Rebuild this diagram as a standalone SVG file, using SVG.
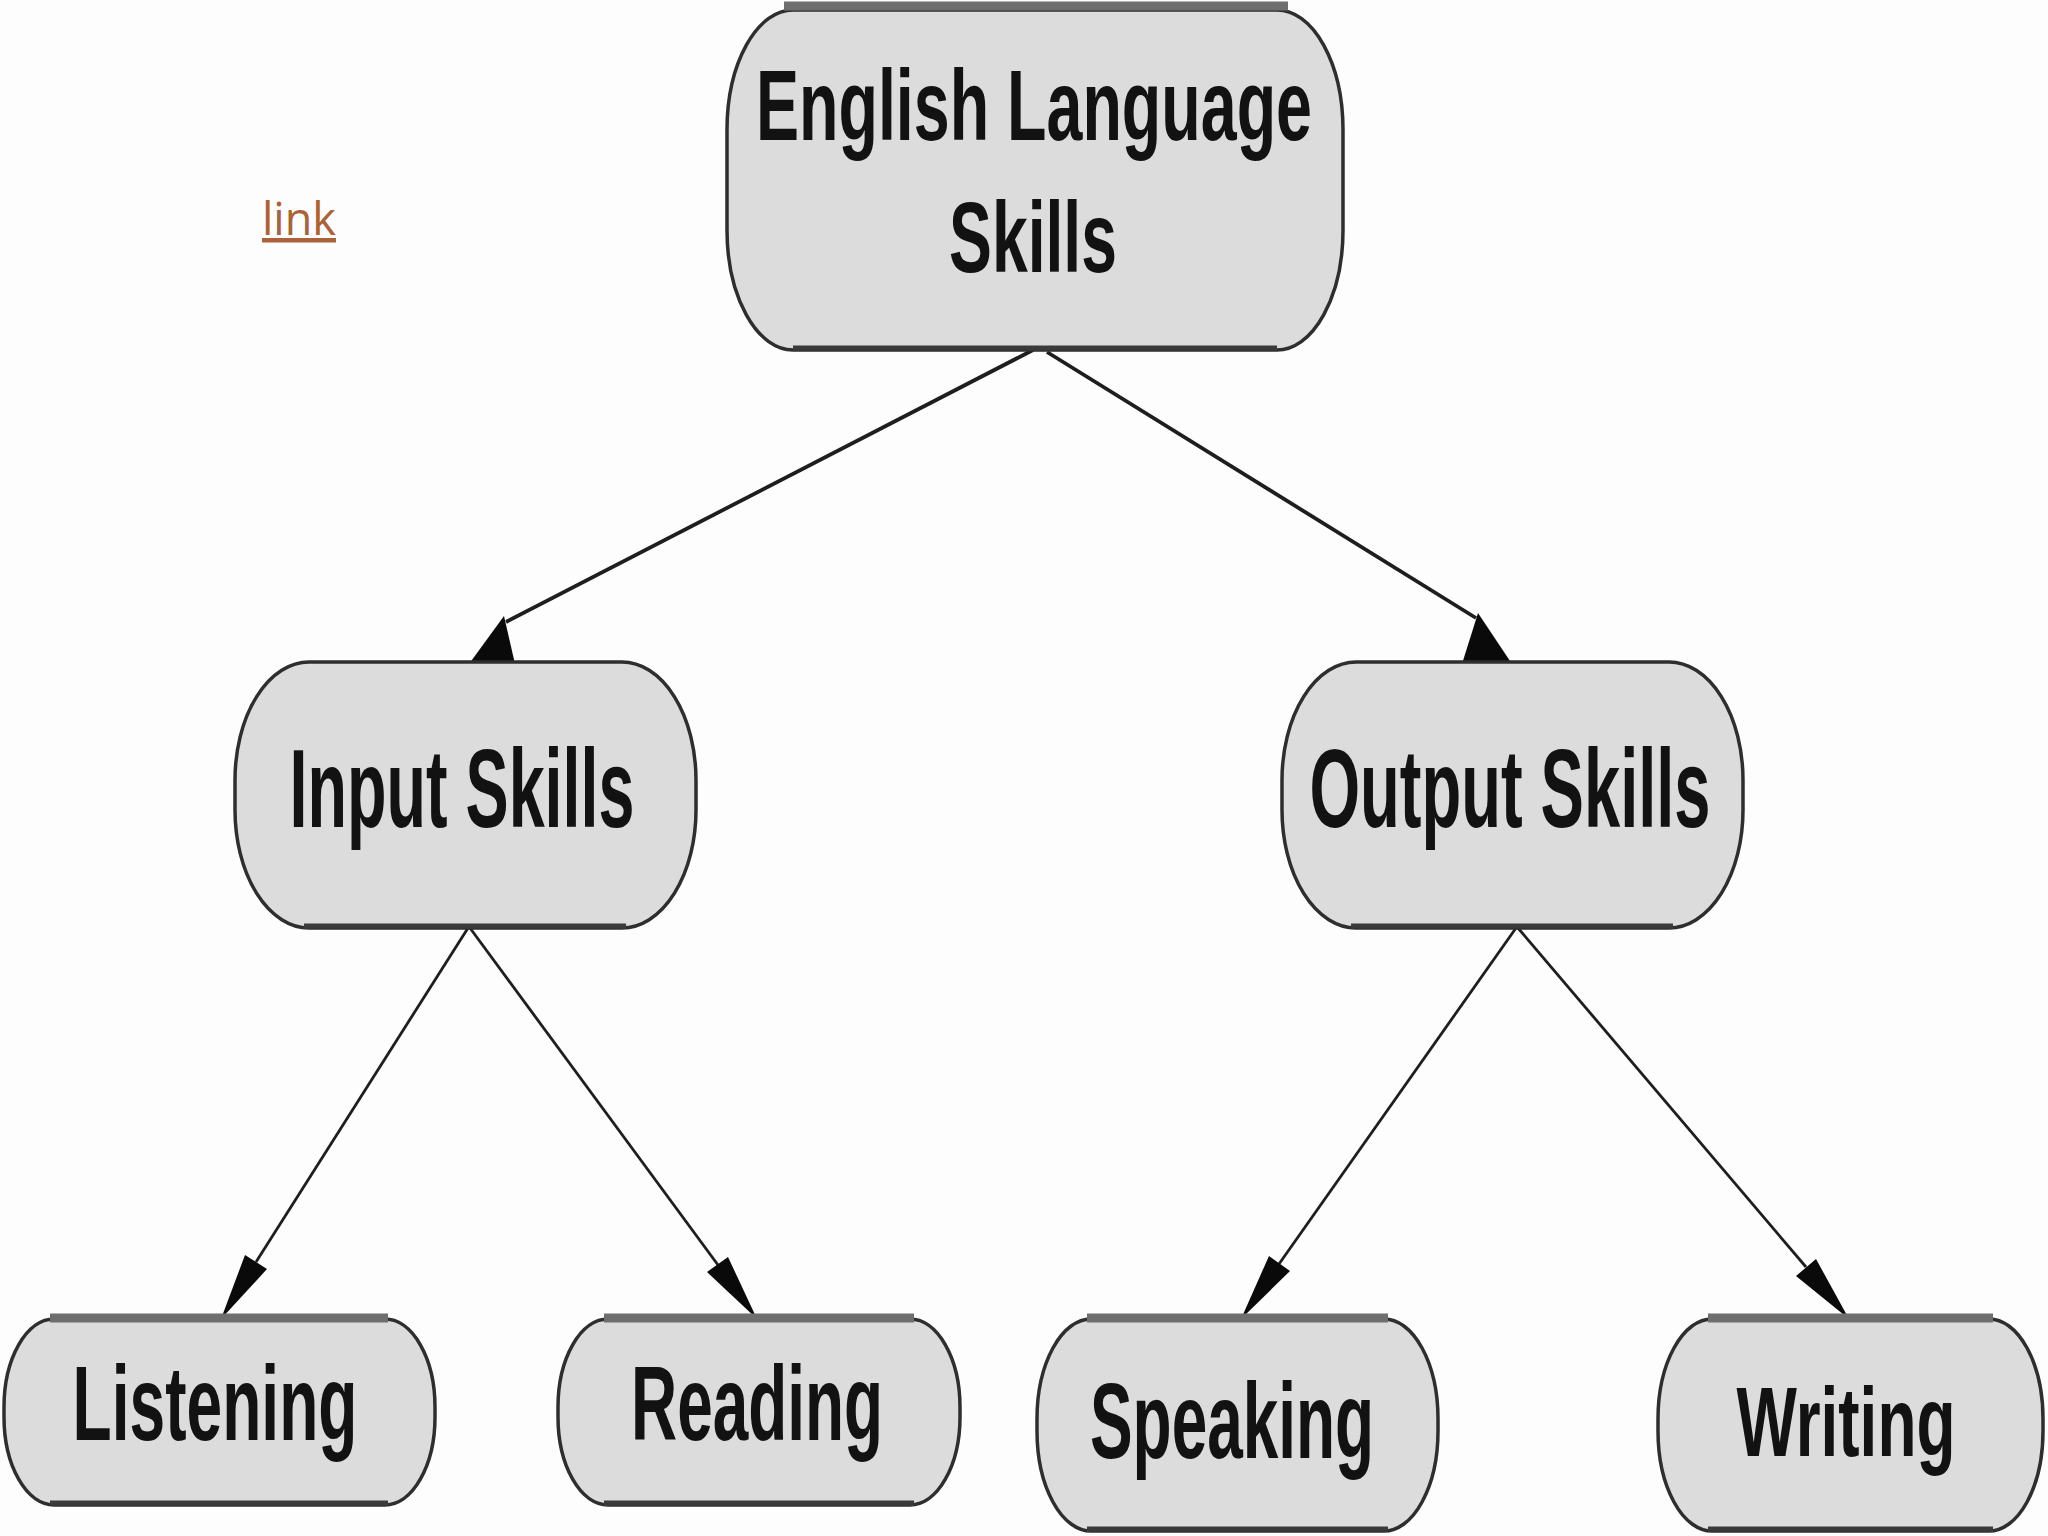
<svg xmlns="http://www.w3.org/2000/svg" width="2048" height="1536" viewBox="0 0 2048 1536">
<style>
.box{fill:#dcdcdc;stroke:#2e2e2e;stroke-width:3.5}
.band{stroke:#6e6e6e;stroke-width:9;fill:none}
.bshade{stroke:#3a3a3a;stroke-width:5;fill:none}
.lbl{font-family:"Liberation Sans",Arial,sans-serif;font-weight:bold;fill:#121212;text-anchor:middle}
.edge{stroke:#1e1e1e;fill:none}
.thick{stroke-width:3.8}
.thin{stroke-width:2.8}
.arrowhead{fill:#0a0a0a;stroke:none}
.link{font-family:"Open Sans","Noto Sans",sans-serif;font-size:45px;fill:#a9623a;text-decoration:underline}
</style>
<rect x="0" y="0" width="2048" height="1536" fill="#fdfdfd"/>
<text class="link" x="262" y="235">link</text>
<g id="connectors">
  <line class="edge thick" x1="1033" y1="350" x2="506" y2="622"/>
  <line class="edge thick" x1="1047" y1="352" x2="1476" y2="618"/>
  <line class="edge thin" x1="468" y1="928" x2="256" y2="1262"/>
  <line class="edge thin" x1="470" y1="928" x2="718" y2="1265"/>
  <line class="edge thin" x1="1516" y1="928" x2="1279" y2="1264"/>
  <line class="edge thin" x1="1518" y1="928" x2="1806" y2="1267"/>
  <polygon class="arrowhead" points="504,616 469,664 515,664"/>
  <polygon class="arrowhead" points="1478,613 1462,664 1512,664"/>
  <polygon class="arrowhead" points="221,1319 267,1269 245,1255"/>
  <polygon class="arrowhead" points="757,1319 728,1257 707,1272"/>
  <polygon class="arrowhead" points="1241,1319 1290,1271 1269,1256"/>
  <polygon class="arrowhead" points="1849,1319 1816,1259 1796,1276"/>
</g>
<g id="node-english">
  <rect class="box" x="727" y="10" width="616" height="340" rx="66" ry="120"/>
  <line class="band" x1="784" y1="6" x2="1288" y2="6"/>
  <line class="bshade" x1="793" y1="348" x2="1277" y2="348"/>
  <text class="lbl" x="1034" y="140" font-size="100" textLength="556" lengthAdjust="spacingAndGlyphs">English Language</text>
  <text class="lbl" x="1033" y="272" font-size="100" textLength="168" lengthAdjust="spacingAndGlyphs">Skills</text>
</g>
<g id="node-input">
  <rect class="box" x="235" y="662" width="461" height="266" rx="74" ry="118"/>
  <line class="bshade" x1="304" y1="926" x2="626" y2="926"/>
  <text class="lbl" x="462" y="827" font-size="112" textLength="345" lengthAdjust="spacingAndGlyphs">Input Skills</text>
</g>
<g id="node-output">
  <rect class="box" x="1282" y="662" width="461" height="266" rx="74" ry="118"/>
  <line class="bshade" x1="1351" y1="926" x2="1673" y2="926"/>
  <text class="lbl" x="1510" y="827" font-size="112" textLength="401" lengthAdjust="spacingAndGlyphs">Output Skills</text>
</g>
<g id="node-listening">
  <rect class="box" x="4" y="1319" width="431" height="186" rx="50" ry="88"/>
  <line class="band" x1="50" y1="1318" x2="388" y2="1318"/>
  <line class="bshade" x1="50" y1="1503" x2="388" y2="1503"/>
  <text class="lbl" x="215" y="1440" font-size="106" textLength="285" lengthAdjust="spacingAndGlyphs">Listening</text>
</g>
<g id="node-reading">
  <rect class="box" x="558" y="1319" width="402" height="186" rx="50" ry="88"/>
  <line class="band" x1="604" y1="1318" x2="914" y2="1318"/>
  <line class="bshade" x1="604" y1="1503" x2="914" y2="1503"/>
  <text class="lbl" x="757" y="1440" font-size="106" textLength="252" lengthAdjust="spacingAndGlyphs">Reading</text>
</g>
<g id="node-speaking">
  <rect class="box" x="1037" y="1319" width="401" height="212" rx="54" ry="100"/>
  <line class="band" x1="1087" y1="1318" x2="1388" y2="1318"/>
  <line class="bshade" x1="1087" y1="1529" x2="1388" y2="1529"/>
  <text class="lbl" x="1232" y="1458" font-size="108" textLength="284" lengthAdjust="spacingAndGlyphs">Speaking</text>
</g>
<g id="node-writing">
  <rect class="box" x="1658" y="1319" width="385" height="212" rx="54" ry="100"/>
  <line class="band" x1="1708" y1="1318" x2="1993" y2="1318"/>
  <line class="bshade" x1="1708" y1="1529" x2="1993" y2="1529"/>
  <text class="lbl" x="1846" y="1456" font-size="98" textLength="219" lengthAdjust="spacingAndGlyphs">Writing</text>
</g>
</svg>
